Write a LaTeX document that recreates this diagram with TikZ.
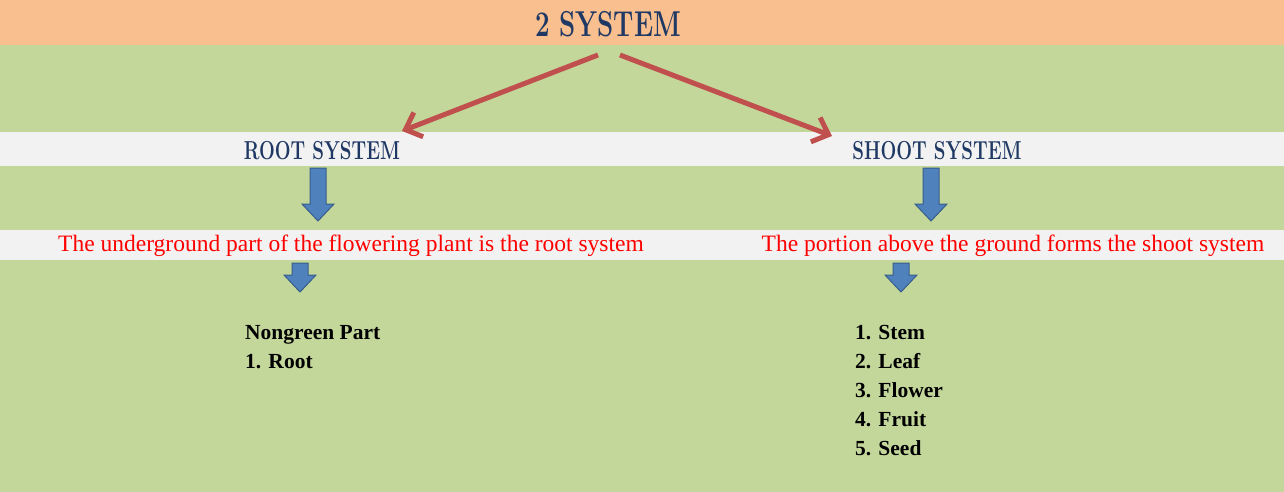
\documentclass[tikz,border=0pt]{standalone}
\usepackage{fontspec}
\setmainfont{Liberation Serif}
\newfontfamily\deco{Latin Modern Roman}
\usetikzlibrary{arrows.meta}
\definecolor{bgorange}{HTML}{FABF8F}
\definecolor{bggreen}{HTML}{C4D79B}
\definecolor{bgwhite}{HTML}{F2F2F2}
\definecolor{navy}{HTML}{1F3864}
\definecolor{arrred}{HTML}{C0504D}
\definecolor{blk}{HTML}{4F81BD}
\definecolor{blkd}{HTML}{385D8A}
\tikzset{
  head/.style={text=navy, inner sep=0, xscale=0.72, transform shape},
  desc/.style={font=\fontsize{23.5}{26}\selectfont, text=red, inner sep=0},
  lst/.style={font=\fontsize{21.5}{29}\selectfont\bfseries, align=left, anchor=north west, inner sep=0},
  redarr/.style={draw=arrred, line width=5pt, -{Straight Barb[length=14pt,width=26pt,line width=5pt]}},
  blockarr/.style={fill=blk, draw=blkd, line width=1pt}
}
\newcommand{\blockarrow}[5]{% x center, top y, bottom y, shaft half width, head half width
  \draw[blockarr] (#1-#4,#2) -- (#1+#4,#2) -- (#1+#4,#3-17) -- (#1+#5,#3-17) -- (#1,#3) -- (#1-#5,#3-17) -- (#1-#4,#3-17) -- cycle;}
\begin{document}
\begin{tikzpicture}[x=1pt,y=-1pt]
\useasboundingbox (0,0) rectangle (1284,492);
\fill[bggreen] (0,0) rectangle (1284,492);
\fill[bgorange] (0,0) rectangle (1284,45);
\fill[bgwhite] (0,132) rectangle (1284,166);
\fill[bgwhite] (0,230) rectangle (1284,260);
\node[head, font=\deco\bfseries\fontsize{36}{40}\selectfont] (title) at (608,24) {2 SYSTEM};
\node[head, font=\deco\bfseries\fontsize{26}{28}\selectfont] (root) at (322,151) {ROOT SYSTEM};
\node[head, font=\deco\bfseries\fontsize{26}{28}\selectfont] (shoot) at (937,151) {SHOOT SYSTEM};
\coordinate (tl) at (598,55);
\coordinate (tr) at (620,55);
\coordinate (rl) at (402,131);
\coordinate (rr) at (832,136);
\draw[redarr] (tl) -- (rl);
\draw[redarr] (tr) -- (rr);
\blockarrow{318}{168}{221}{8}{16}
\blockarrow{931}{168}{221}{8}{16}
\blockarrow{300}{263}{292}{8}{16}
\blockarrow{901}{263}{292}{8}{16}
\node[desc] (d1) at (351,246) {The underground part of the flowering plant is the root system};
\node[desc] (d2) at (1013,246) {The portion above the ground forms the shoot system};
\node[lst] (l1) at (245,325) {Nongreen Part\\1. Root};
\node[lst] (l2) at (855,325) {1. Stem\\2. Leaf\\3. Flower\\4. Fruit\\5. Seed};
\end{tikzpicture}
\end{document}
